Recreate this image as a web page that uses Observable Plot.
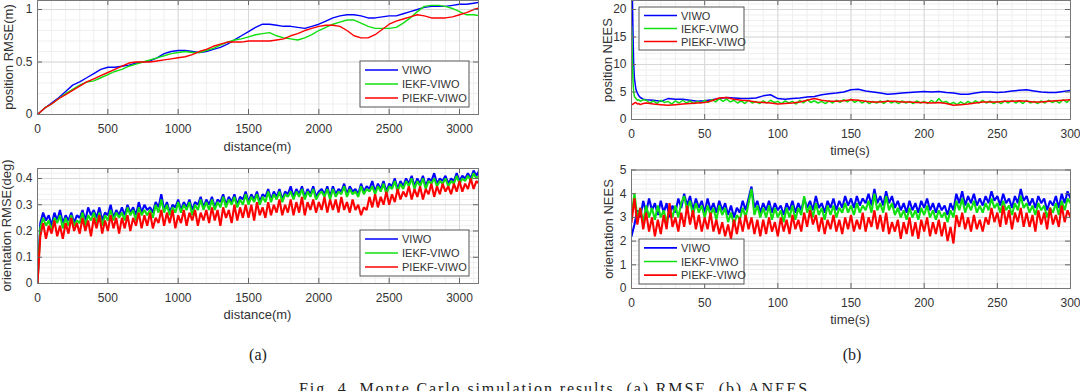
<!DOCTYPE html>
<html><head><meta charset="utf-8">
<script src="https://cdn.jsdelivr.net/npm/d3@7"></script>
<script src="https://cdn.jsdelivr.net/npm/@observablehq/plot@0.6"></script>
<style>
body{margin:0;background:#fff;}
#root{position:relative;width:1080px;height:391px;overflow:hidden;background:#fff;}
#root svg{position:absolute;}
</style></head><body><div id="root"></div>
<script>
// ---------- series names / colours ----------
const seriesNames = ["VIWO", "IEKF-VIWO", "PIEKF-VIWO"];
const seriesColors = ["#0000ff", "#10e010", "#ff0000"];

// ---------- (a) top: position RMSE(m) vs distance, sampled every 50 m ----------
const posRmseStep = 50;
const posRmseVIWO = [0,0.06,0.11,0.16,0.22,0.28,0.31,0.35,
 0.39,0.43,0.45,0.45,0.46,0.47,0.49,0.50,
 0.51,0.54,0.58,0.60,0.61,0.61,0.60,0.59,
 0.60,0.62,0.64,0.67,0.71,0.75,0.79,0.83,
 0.86,0.86,0.85,0.84,0.84,0.83,0.82,0.84,
 0.86,0.89,0.92,0.94,0.95,0.95,0.94,0.92,
 0.92,0.93,0.94,0.94,0.96,0.98,1.00,1.02,
 1.03,1.03,1.03,1.04,1.05,1.05,1.06,1.07];
const posRmseIEKF = [0,0.06,0.10,0.15,0.20,0.24,0.28,0.31,
 0.32,0.35,0.38,0.41,0.43,0.46,0.48,0.50,
 0.52,0.54,0.56,0.58,0.59,0.60,0.59,0.59,
 0.61,0.63,0.66,0.69,0.71,0.72,0.74,0.76,
 0.77,0.78,0.75,0.73,0.72,0.71,0.73,0.76,
 0.80,0.83,0.86,0.88,0.90,0.90,0.87,0.84,
 0.82,0.82,0.82,0.83,0.87,0.92,0.98,1.03,
 1.04,1.04,1.03,1.01,0.98,0.95,0.95,0.94];
const posRmsePIEKF = [0,0.06,0.10,0.15,0.19,0.23,0.27,0.31,
 0.34,0.37,0.40,0.43,0.46,0.49,0.50,0.50,
 0.50,0.51,0.52,0.53,0.54,0.55,0.57,0.60,
 0.62,0.65,0.67,0.69,0.69,0.69,0.70,0.70,
 0.70,0.70,0.71,0.72,0.75,0.77,0.80,0.82,
 0.84,0.85,0.85,0.84,0.80,0.75,0.73,0.73,
 0.76,0.81,0.86,0.89,0.91,0.93,0.95,0.94,
 0.92,0.92,0.92,0.93,0.95,0.97,1.00,1.02];

// ---------- (a) bottom: orientation RMSE(deg) vs distance, sampled every 20 m ----------
const oriRmseStep = 20;
const oriRmseVIWO = [0,.23,.27,.24,.26,.22,.27,.24,.28,.23,.26,.24,.27,.23,.26,
 .25,.28,.24,.29,.26,.28,.25,.29,.24,.27,.26,.30,.25,.28,.26,
 .29,.26,.30,.27,.29,.26,.31,.27,.30,.28,.29,.27,.31,.29,.34,
 .28,.31,.27,.30,.29,.32,.28,.31,.29,.32,.28,.31,.30,.33,.29,
 .32,.30,.33,.29,.32,.31,.34,.30,.33,.31,.34,.30,.33,.32,.35,
 .31,.34,.32,.35,.31,.34,.33,.36,.32,.35,.33,.36,.32,.35,.34,
 .37,.33,.36,.34,.37,.33,.36,.34,.37,.33,.35,.36,.34,.37,.33,
 .37,.34,.36,.35,.38,.34,.37,.35,.36,.34,.38,.35,.37,.36,.39,
 .35,.38,.36,.39,.35,.38,.37,.40,.36,.39,.37,.40,.38,.41,.37,
 .40,.38,.41,.37,.40,.39,.42,.38,.40,.39,.41,.38,.40,.39,.42,
 .39,.41,.40,.42,.40,.43,.41,.43];
const oriRmseIEKF = [0,.21,.25,.22,.24,.20,.25,.23,.26,.21,.25,.22,.26,.22,.24,
 .23,.27,.22,.26,.24,.27,.23,.27,.22,.26,.24,.28,.24,.27,.25,
 .27,.24,.29,.26,.28,.24,.29,.26,.28,.26,.28,.25,.30,.27,.32,
 .27,.30,.26,.29,.27,.31,.27,.30,.28,.31,.26,.30,.28,.32,.28,
 .31,.28,.32,.28,.31,.29,.33,.29,.32,.30,.33,.29,.32,.30,.34,
 .30,.33,.31,.34,.30,.33,.31,.35,.31,.34,.32,.35,.31,.34,.33,
 .35,.32,.35,.33,.36,.32,.35,.33,.36,.32,.34,.35,.33,.36,.32,
 .36,.33,.35,.34,.37,.33,.36,.34,.35,.33,.37,.34,.36,.35,.37,
 .34,.37,.35,.38,.34,.37,.36,.39,.35,.38,.36,.39,.37,.40,.36,
 .39,.37,.40,.36,.39,.38,.40,.37,.39,.38,.40,.37,.39,.38,.41,
 .38,.40,.39,.41,.39,.42,.40,.41];
const oriRmsePIEKF = [0,.18,.23,.17,.22,.19,.24,.18,.22,.17,.23,.19,.25,.20,.23,
 .19,.25,.20,.24,.18,.25,.21,.26,.19,.24,.20,.26,.21,.25,.19,
 .25,.21,.26,.20,.25,.22,.27,.21,.26,.22,.27,.21,.25,.23,.28,
 .22,.27,.23,.28,.21,.26,.23,.28,.22,.27,.24,.28,.22,.27,.24,
 .28,.23,.29,.24,.28,.22,.29,.25,.28,.23,.30,.24,.29,.25,.30,
 .25,.30,.24,.31,.26,.29,.25,.31,.26,.30,.27,.32,.26,.30,.27,
 .32,.26,.31,.27,.33,.26,.31,.28,.32,.27,.31,.28,.33,.27,.32,
 .28,.32,.27,.33,.28,.31,.27,.32,.28,.30,.26,.29,.28,.33,.29,
 .34,.29,.33,.30,.35,.30,.34,.31,.36,.32,.35,.33,.37,.32,.36,
 .33,.37,.32,.36,.34,.38,.33,.37,.34,.38,.35,.37,.34,.38,.35,
 .39,.35,.38,.36,.40,.36,.39,.38];

// ---------- (b) top: position NEES vs time ----------
const posNeesTime = [0,0.5,1,1.5,2,3,4,5,6,8].concat(d3.range(10, 301, 5));
const posNeesTimeFine = [0,0.5,1,1.5,2,3,4,5,6,8].concat(d3.range(10, 301, 2.5));
const posNeesVIWO = [30,24,16,10,7.5,5.5,4.8,4.3,4.0,3.7,
 3.6,3.5,3.3,3.8,3.7,3.7,3.5,3.3,3.4,3.6,
 3.8,4.0,3.9,3.8,3.8,3.9,4.3,4.5,3.8,3.7,
 3.8,3.9,4.1,4.2,4.5,4.7,4.8,5.0,5.4,5.5,
 5.2,5.0,4.8,4.6,4.7,4.8,4.9,5.0,5.1,5.0,
 5.1,4.9,4.8,4.6,4.6,4.8,5.0,5.0,4.9,5.0,
 5.2,5.3,5.4,5.2,5.0,4.9,4.9,5.1,5.3];
const posNeesIEKF = [17,12,7,5,4.2,3.8,3.5,3.6,3.3,3.6,
 3.5,3.0,3.4,2.9,3.5,3.1,3.3,2.8,3.4,3.0,3.5,3.0,
 3.4,2.9,3.3,3.0,3.5,3.1,3.6,3.2,3.8,3.3,3.7,3.2,
 3.5,3.0,3.4,2.9,3.5,3.0,3.3,2.9,3.4,3.0,3.5,3.1,
 3.3,2.9,3.4,3.0,3.3,2.8,3.5,3.0,3.6,3.1,3.4,3.0,
 3.3,2.9,3.4,3.0,3.5,3.1,3.6,3.2,3.7,3.1,3.5,3.0,
 3.4,2.9,3.3,3.0,3.4,2.9,3.5,3.0,3.3,2.9,3.4,3.0,
 3.3,2.9,3.4,3.0,3.3,2.9,3.5,3.0,3.8,3.1,3.3,2.8,
 3.1,2.7,3.2,2.8,3.3,2.9,3.4,3.0,3.5,3.0,3.4,2.9,
 3.3,2.9,3.4,3.0,3.5,3.0,3.4,2.9,3.5,3.0,3.3,2.9,
 3.4,3.0,3.5,3.1,3.4,3.0,3.6,3.1,
 3.7];
const posNeesPIEKF = [2.8,2.7,2.8,2.9,3.0,3.1,2.8,2.9,2.7,2.9,
 3.0,2.8,2.7,2.6,2.7,2.8,2.9,3.0,3.1,3.4,
 3.9,4.0,3.7,3.5,3.4,3.2,3.1,3.0,2.8,2.9,
 3.0,3.2,3.5,3.8,3.5,3.3,3.3,3.4,3.6,3.5,
 3.3,3.2,3.2,3.3,3.3,3.2,3.2,3.1,3.1,3.0,
 3.1,2.9,2.6,2.7,2.8,3.0,3.2,3.2,3.2,3.3,
 3.3,3.4,3.3,3.2,3.2,3.3,3.4,3.5,3.6];

// ---------- (b) bottom: orientation NEES vs time, sampled every 2 s ----------
const oriNeesStep = 2;
const oriNeesVIWO = [2.2,2.7,3.3,3.0,3.7,3.2,3.8,3.3,3.6,3.1,3.7,3.2,3.6,3.0,3.5,
 3.2,3.8,3.4,4.0,3.5,3.9,3.3,3.8,3.4,3.7,3.2,3.8,3.3,3.6,3.2,
 3.7,3.3,3.6,3.1,3.5,3.0,3.4,3.2,3.7,3.3,3.8,4.3,3.4,3.7,3.2,
 3.6,3.3,3.7,3.2,3.6,3.3,3.5,3.1,3.6,3.3,3.7,3.2,3.6,3.3,3.8,
 3.4,3.7,3.3,3.9,3.4,3.6,3.2,3.7,3.4,3.8,3.3,3.7,3.4,3.9,3.5,
 3.8,3.4,3.9,3.5,3.8,3.6,4.0,3.5,4.2,3.6,3.9,3.5,4.1,3.6,3.9,
 3.4,3.7,3.3,3.6,3.2,3.7,3.3,3.6,3.2,3.7,3.4,3.8,3.3,3.6,3.2,
 3.6,3.3,3.5,3.1,3.6,3.3,4.0,3.6,4.1,3.5,3.9,3.6,4.0,3.5,3.8,
 3.5,3.9,3.6,4.1,3.7,3.9,3.5,4.0,3.6,3.8,3.4,3.9,3.6,4.2,3.7,
 3.9,3.5,3.8,3.4,3.9,3.6,3.8,3.3,3.7,3.5,3.9,3.4,4.0,3.6,4.1,
 3.8];
const oriNeesIEKF = [3.0,4.0,3.0,3.4,2.8,3.5,3.0,3.4,2.9,3.5,3.0,3.3,2.8,3.4,3.0,
 3.5,3.0,3.6,3.9,3.3,3.7,3.1,3.6,3.2,3.5,3.0,3.5,3.1,3.4,2.9,
 3.5,3.1,3.4,2.8,3.2,2.7,3.1,2.9,3.4,3.0,3.6,4.2,3.1,3.5,3.0,
 3.4,3.0,3.5,2.9,3.4,3.0,3.3,2.8,3.4,3.0,3.5,2.9,3.4,3.1,3.9,
 3.2,3.5,3.0,3.6,3.1,3.4,2.9,3.5,3.1,3.5,3.0,3.4,3.2,3.6,3.2,
 3.5,3.1,3.6,3.2,3.5,3.3,3.7,3.2,4.0,3.3,3.6,3.2,3.9,3.3,3.6,
 3.1,3.4,3.0,3.3,2.9,3.4,3.0,3.3,2.9,3.4,3.1,3.5,3.0,3.3,2.9,
 3.3,3.0,3.2,2.8,3.3,3.0,3.7,3.3,3.8,3.2,3.6,3.3,3.7,3.2,3.5,
 3.2,3.6,3.3,3.8,3.4,3.6,3.2,3.7,3.3,3.5,3.1,3.6,3.3,3.9,3.4,
 3.6,3.2,3.5,3.1,3.6,3.3,3.5,3.0,3.4,3.2,3.6,3.1,3.7,3.3,3.8,
 3.6];
const oriNeesPIEKF = [2.8,3.8,2.7,3.4,2.5,3.2,2.4,3.0,2.2,2.9,2.3,3.1,2.5,3.6,2.6,
 3.0,2.4,3.2,2.6,3.5,2.7,3.3,2.5,3.1,2.4,3.0,2.5,3.2,2.4,2.9,
 2.3,2.8,2.2,2.7,2.1,2.9,2.3,3.0,2.4,3.1,2.5,3.0,2.3,2.9,2.2,
 2.9,2.3,3.0,2.4,2.8,2.2,3.0,2.4,2.9,2.3,3.1,2.5,2.9,2.4,3.2,
 2.6,3.3,2.7,3.1,2.4,3.0,2.3,2.9,2.5,3.1,2.4,2.9,2.3,3.0,2.5,
 3.1,2.4,2.9,2.5,3.2,2.4,3.0,2.6,3.3,2.5,3.1,2.4,3.2,2.3,2.8,
 2.4,2.9,2.1,2.8,2.3,3.0,2.2,2.8,2.1,2.9,2.4,3.0,2.2,2.8,2.3,
 2.9,2.2,2.8,2.0,2.6,1.9,3.1,2.6,3.2,2.5,3.0,2.4,3.1,2.5,2.9,
 2.4,3.0,2.7,3.4,2.8,3.2,2.6,3.5,2.7,3.3,2.5,3.2,2.8,3.4,2.6,
 3.2,2.6,3.1,2.4,3.3,2.7,3.2,2.5,3.4,2.7,3.1,2.6,3.5,2.8,3.3,
 3.0];

// ---------- tick labels ----------
const distTicks = [0,500,1000,1500,2000,2500,3000];
const timeTicks = [0,50,100,150,200,250,300];
const posRmseTicks = [0,0.5,1];
const oriRmseTicks = [0,0.1,0.2,0.3,0.4];
const posNeesTicks = [0,5,10,15,20];
const oriNeesTicks = [0,1,2,3,4,5];

// ---------- helpers ----------
const FONT = "'Liberation Sans', Arial, Helvetica, sans-serif";
const stepRows = (ys, step) => ys.map((y, i) => ({x: i * step, y}));
const xRows = (xs, ys) => ys.map((y, i) => ({x: xs[i], y}));
const fmt = d => String(d);

function panel(o) {
  const [mt, mr, mb, ml] = o.margin;
  const iw = o.width - ml - mr, ih = o.height - mt - mb;
  const tk = 5;
  const svg = Plot.plot({
    width: o.width, height: o.height,
    marginTop: mt, marginRight: mr, marginBottom: mb, marginLeft: ml,
    style: {fontFamily: FONT, fontSize: "12px", color: "#333", background: "transparent", overflow: "visible"},
    x: {domain: o.xDomain},
    y: {domain: o.yDomain},
    marks: [
      Plot.gridX({ticks: o.xMinor, stroke: "#efefef", strokeOpacity: 1}),
      Plot.gridY({ticks: o.yMinor, stroke: "#efefef", strokeOpacity: 1}),
      Plot.gridX({ticks: o.xTicks, stroke: "#d8d8d8", strokeOpacity: 1}),
      Plot.gridY({ticks: o.yTicks, stroke: "#d8d8d8", strokeOpacity: 1}),
      ...o.series.map((rows, i) => Plot.line(rows, {x: "x", y: "y", stroke: seriesColors[i], strokeWidth: o.sw, strokeLinejoin: "miter", clip: true})),
      Plot.ruleX(o.xTicks, {x: d => d, insetTop: ih - tk, stroke: "#666"}),
      Plot.ruleX(o.xTicks, {x: d => d, insetBottom: ih - tk, stroke: "#666"}),
      Plot.ruleY(o.yTicks, {y: d => d, insetRight: iw - tk, stroke: "#666"}),
      Plot.ruleY(o.yTicks, {y: d => d, insetLeft: iw - tk, stroke: "#666"}),
      Plot.frame({stroke: "#777"}),
      Plot.axisX({ticks: o.xTicks, tickSize: 0, tickPadding: 10, tickFormat: fmt, label: null}),
      Plot.axisY({ticks: o.yTicks, tickSize: 0, tickPadding: 5, tickFormat: fmt, label: null})
    ]
  });
  svg.style.left = o.left + "px";
  svg.style.top = o.top + "px";
  const s = d3.select(svg);
  s.append("text").attr("transform", `translate(${o.yLab[0]},${o.yLab[1]}) rotate(-90)`)
    .attr("text-anchor", "middle").attr("dominant-baseline", "central")
    .attr("font-family", FONT).attr("font-size", 13).attr("fill", "#333").text(o.yLabel);
  s.append("text").attr("x", o.xLab[0]).attr("y", o.xLab[1])
    .attr("text-anchor", "middle").attr("dominant-baseline", "central")
    .attr("font-family", FONT).attr("font-size", 13).attr("fill", "#333").text(o.xLabel);
  // legend box
  const [lx, ly, lw, lh] = o.legend;
  const g = s.append("g");
  g.append("rect").attr("x", lx).attr("y", ly).attr("width", lw).attr("height", lh)
    .attr("fill", "#fff").attr("stroke", "#555").attr("stroke-width", 1);
  const rowH = (lh - 4) / 3;
  seriesNames.forEach((name, i) => {
    const cy = ly + 2 + rowH * (i + 0.5);
    g.append("line").attr("x1", lx + 5).attr("x2", lx + 38).attr("y1", cy).attr("y2", cy)
      .attr("stroke", seriesColors[i]).attr("stroke-width", 1.6);
    g.append("text").attr("x", lx + 42).attr("y", cy).attr("text-anchor", "start")
      .attr("dominant-baseline", "central")
      .attr("font-family", FONT).attr("font-size", 11).attr("fill", "#333").text(name);
  });
  document.getElementById("root").appendChild(svg);
}

// caption layer
const cap = d3.select("#root").append("svg").attr("width", 1080).attr("height", 391)
  .style("left", "0px").style("top", "0px");
const SERIF = "'Liberation Serif', 'Times New Roman', serif";
cap.append("text").attr("x", 258).attr("y", 354).attr("text-anchor", "middle").attr("dominant-baseline", "central")
  .attr("font-family", SERIF).attr("font-size", 16).attr("fill", "#222").text("(a)");
cap.append("text").attr("x", 852).attr("y", 354).attr("text-anchor", "middle").attr("dominant-baseline", "central")
  .attr("font-family", SERIF).attr("font-size", 16).attr("fill", "#222").text("(b)");
cap.append("text").attr("x", 299).attr("y", 394).attr("textLength", 514).attr("lengthAdjust", "spacing")
  .attr("font-family", SERIF).attr("font-size", 16).attr("fill", "#222")
  .text("Fig. 4.   Monte Carlo simulation results. (a) RMSE. (b) ANEES.");

// (a) top
panel({left: 0, top: 0, width: 490, height: 160, margin: [0, 12, 46, 37],
  xDomain: [0, 3135], yDomain: [0, 1.086],
  xTicks: distTicks, yTicks: posRmseTicks,
  xMinor: d3.range(0, 3136, 100), yMinor: d3.range(0, 1.09, 0.1),
  series: [posRmseVIWO, posRmseIEKF, posRmsePIEKF].map(ys => stepRows(ys, posRmseStep)),
  sw: 1.4, yLabel: "position RMSE(m)", yLab: [8, 57], xLabel: "distance(m)", xLab: [257.5, 146],
  legend: [360, 61, 109, 46]});

// (b) top
panel({left: 540, top: 0, width: 540, height: 165, margin: [0, 10, 46, 91],
  xDomain: [0, 300], yDomain: [0, 21.64],
  xTicks: timeTicks, yTicks: posNeesTicks,
  xMinor: d3.range(0, 301, 10), yMinor: d3.range(0, 21.7, 1),
  series: [xRows(posNeesTime, posNeesVIWO), xRows(posNeesTimeFine, posNeesIEKF), xRows(posNeesTime, posNeesPIEKF)],
  sw: 1.5, yLabel: "position NEES", yLab: [67.5, 60], xLabel: "time(s)", xLab: [310, 150],
  legend: [99, 7, 105, 43]});

// (a) bottom
panel({left: 0, top: 160, width: 490, height: 170, margin: [8, 12, 47, 37],
  xDomain: [0, 3135], yDomain: [0, 0.438],
  xTicks: distTicks, yTicks: oriRmseTicks,
  xMinor: d3.range(0, 3136, 100), yMinor: d3.range(0, 0.44, 0.02),
  series: [oriRmseVIWO, oriRmseIEKF, oriRmsePIEKF].map(ys => stepRows(ys, oriRmseStep)),
  sw: 2.1, yLabel: "orientation RMSE(deg)", yLab: [6.5, 65.5], xLabel: "distance(m)", xLab: [257.5, 154],
  legend: [360, 70, 109, 46]});

// (b) bottom
panel({left: 540, top: 160, width: 540, height: 175, margin: [9.5, 10, 47, 91],
  xDomain: [0, 300], yDomain: [0, 5],
  xTicks: timeTicks, yTicks: oriNeesTicks,
  xMinor: d3.range(0, 301, 10), yMinor: d3.range(0, 5.01, 0.2),
  series: [oriNeesVIWO, oriNeesIEKF, oriNeesPIEKF].map(ys => stepRows(ys, oriNeesStep)),
  sw: 2.1, yLabel: "orientation NEES", yLab: [68, 69], xLabel: "time(s)", xLab: [310, 159],
  legend: [99, 79, 105, 45]});
</script></body></html>
